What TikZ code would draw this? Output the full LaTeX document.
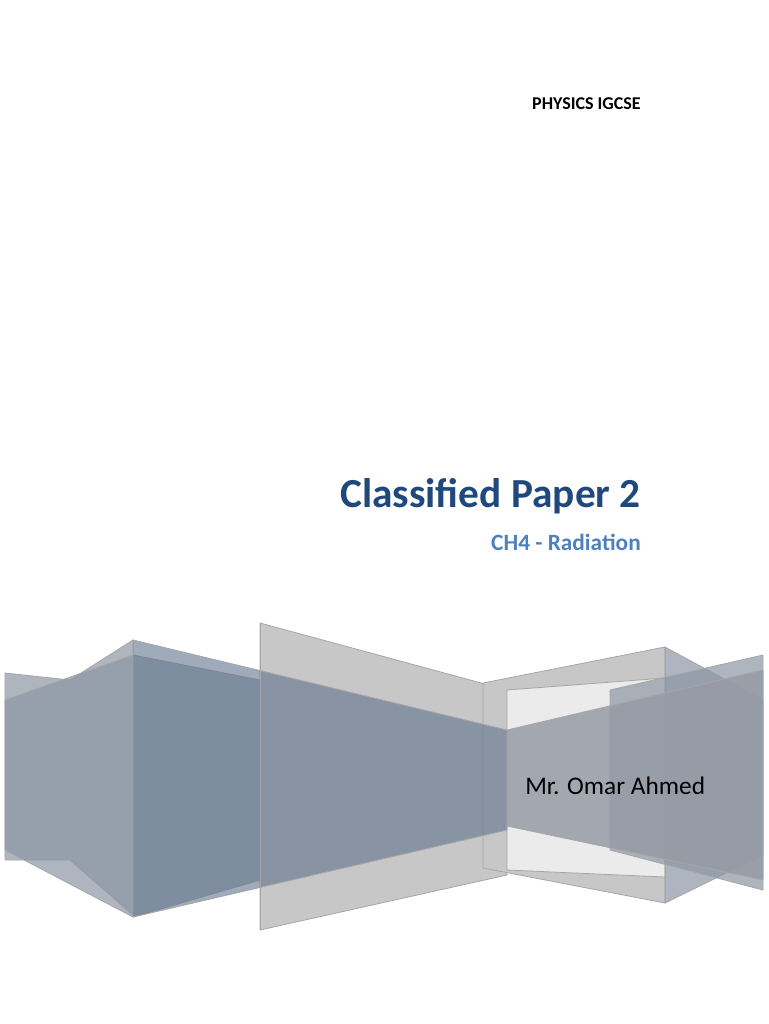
\documentclass[tikz,border=0pt]{standalone}
\usepackage{fontspec}
\setmainfont{Carlito}
\definecolor{bandc}{RGB}{95,115,140}
\definecolor{bgc}{RGB}{140,150,165}
\definecolor{rc}{RGB}{150,156,166}
\begin{document}
\begin{tikzpicture}[x=0.75pt,y=-0.75pt,
  edge/.style={draw=gray!70,line width=0.6pt},
  lgrey/.style={fill=black!22,edge},
  light/.style={fill=black!8,edge},
  bgrey/.style={fill=bgc,fill opacity=0.7,edge},
  rgrey/.style={fill=rc,fill opacity=0.85,edge},
  band/.style={fill=bandc,fill opacity=0.6,edge},
  every node/.style={inner sep=0pt}]
\useasboundingbox[fill=white] (0,0) rectangle (768,1024);
% back grey shape
\draw[lgrey] (260,623) -- (507,690) -- (507,875) -- (260,930) -- cycle;
\draw[lgrey] (483,683) -- (665,647) -- (665,903) -- (483,868) -- cycle;
\draw[light] (507,690) -- (665,678) -- (665,877) -- (507,870) -- cycle;
% right triangles
\draw[bgrey] (665,647) -- (763,700) -- (763,855) -- (665,903) -- cycle;
\draw[bgrey] (610,690) -- (763,655) -- (763,890) -- (610,850) -- cycle;
% left shapes
\draw[bgrey] (5,673) -- (70,680) -- (133,640) -- (133,915) -- (70,860) -- (5,860) -- cycle;
\draw[bgrey] (5,700) -- (133,655) -- (260,680) -- (260,880) -- (133,917) -- (5,850) -- cycle;
% main band
\draw[band] (133,640) -- (507,730) -- (507,830) -- (133,917) -- cycle;
\draw[rgrey] (507,730) -- (763,670) -- (763,880) -- (507,826) -- cycle;
\draw[gray!70] (260,623) -- (260,930);
% texts
\node[anchor=base east,font=\bfseries\fontsize{13.5}{16}\selectfont] (t1) at (641,109) {PHYSICS IGCSE};
\node[anchor=base east,text={rgb,255:red,31;green,73;blue,125},font=\bfseries\fontsize{31}{36}\selectfont] (t2) at (641,507) {Classified Paper 2};
\node[anchor=base east,text={rgb,255:red,79;green,129;blue,189},font=\bfseries\fontsize{17.5}{20}\selectfont] (t3) at (641,550) {CH4 - Radiation};
\node[anchor=base west,font=\fontsize{19}{22}\selectfont] (t4) at (525,794) {Mr. Omar Ahmed};
\end{tikzpicture}
\end{document}
